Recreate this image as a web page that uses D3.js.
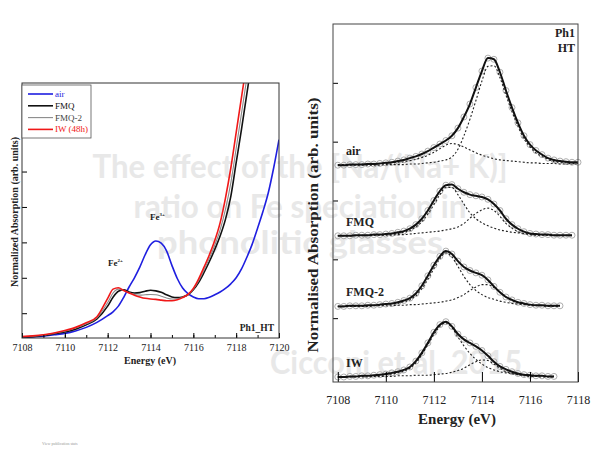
<!DOCTYPE html>
<html>
<head>
<meta charset="utf-8">
<script src="https://cdn.jsdelivr.net/npm/d3@7"></script>
<style>
  body { margin: 0; background: #fff; }
</style>
</head>
<body>
<script>
// ---- left panel: XANES pre-edge ----
var eLeft = [7108, 7108.5, 7109, 7109.5, 7110, 7110.5, 7111, 7111.5,
  7112, 7112.25, 7112.5, 7112.75, 7113, 7113.25, 7113.5, 7113.75, 7114, 7114.25, 7114.5, 7114.75,
  7115, 7115.25, 7115.5, 7115.75, 7116, 7116.25, 7116.5, 7116.75, 7117, 7117.25, 7117.5, 7117.75,
  7118, 7118.25, 7118.5, 7118.75, 7119, 7119.25, 7119.5, 7119.75, 7120];
var airLeft = [-0.068, -0.067, -0.065, -0.061, -0.057, -0.050, -0.040, -0.026,
  -0.007, 0.004, 0.020, 0.045, 0.074, 0.100, 0.130, 0.165, 0.193, 0.204, 0.198, 0.176,
  0.135, 0.098, 0.071, 0.055, 0.046, 0.041, 0.041, 0.045, 0.052, 0.060, 0.070, 0.083,
  0.100, 0.125, 0.158, 0.195, 0.240, 0.287, 0.340, 0.410, 0.490];
var fmqLeft = [-0.067, -0.066, -0.063, -0.058, -0.053, -0.045, -0.033, -0.016,
  0.020, 0.045, 0.062, 0.066, 0.060, 0.057, 0.058, 0.062, 0.065, 0.063, 0.059, 0.052,
  0.046, 0.044, 0.046, 0.052, 0.066, 0.087, 0.115, 0.146, 0.180, 0.218, 0.265, 0.330,
  0.425, 0.520, 0.620, 0.720, null, null, null, null, null];
var fmq2Left = [-0.066, -0.065, -0.062, -0.057, -0.051, -0.042, -0.030, -0.013,
  0.030, 0.057, 0.068, 0.064, 0.058, 0.053, 0.051, 0.052, 0.053, 0.052, 0.048, 0.043,
  0.040, 0.041, 0.045, 0.052, 0.068, 0.092, 0.122, 0.155, 0.192, 0.235, 0.293, 0.368,
  0.465, 0.565, 0.665, 0.765, null, null, null, null, null];
var iwLeft = [-0.066, -0.064, -0.061, -0.056, -0.049, -0.040, -0.027, -0.010,
  0.042, 0.068, 0.072, 0.064, 0.057, 0.051, 0.046, 0.042, 0.040, 0.039, 0.037, 0.035,
  0.035, 0.038, 0.044, 0.053, 0.070, 0.097, 0.130, 0.165, 0.205, 0.255, 0.325, 0.410,
  0.510, 0.610, 0.710, null, null, null, null, null, null];
var leftNames = ["air", "FMQ", "FMQ-2", "IW (48h)"];
var leftColors = ["#1f1fe0", "#111", "#8a8a8a", "#f01818"];

// ---- right panel: pre-edge peak fits ----
var eRight = [7108, 7108.25, 7108.5, 7108.75, 7109, 7109.25, 7109.5, 7109.75,
  7110, 7110.25, 7110.5, 7110.75, 7111, 7111.25, 7111.5, 7111.75,
  7112, 7112.25, 7112.5, 7112.75, 7113, 7113.25, 7113.5, 7113.75,
  7114, 7114.25, 7114.5, 7114.75, 7115, 7115.25, 7115.5, 7115.75,
  7116, 7116.25, 7116.5, 7116.75, 7117, 7117.25, 7117.5, 7117.75, 7118];
var airFit = [0.00, 0.00, 0.01, 0.01, 0.01, 0.02, 0.02, 0.03, 0.04, 0.05, 0.07, 0.09, 0.12, 0.15, 0.19, 0.24,
  0.30, 0.36, 0.42, 0.50, 0.63, 0.82, 1.04, 1.32, 1.60, 1.82, 1.80, 1.58, 1.27, 0.98, 0.72, 0.50,
  0.35, 0.25, 0.18, 0.12, 0.09, 0.07, 0.06, 0.05, 0.05];
var airFe2 = [0.01, 0.01, 0.01, 0.01, 0.02, 0.02, 0.02, 0.03, 0.03, 0.04, 0.05, 0.06, 0.08, 0.10, 0.13, 0.17,
  0.22, 0.28, 0.34, 0.37, 0.35, 0.31, 0.26, 0.21, 0.17, 0.14, 0.11, 0.09, 0.08, 0.07, 0.06, 0.05,
  0.04, 0.04, 0.03, 0.03, 0.03, 0.02, 0.02, 0.02, 0.02];
var airFe3 = [0, 0, 0, 0, 0, 0, 0, 0, 0.01, 0.01, 0.01, 0.01, 0.02, 0.02, 0.03, 0.04,
  0.05, 0.07, 0.09, 0.14, 0.27, 0.50, 0.78, 1.10, 1.43, 1.68, 1.69, 1.49, 1.19, 0.91, 0.66, 0.45,
  0.31, 0.21, 0.15, 0.10, 0.06, 0.05, 0.04, 0.03, 0.03];
var fmqFit = [0.00, 0.00, 0.00, 0.01, 0.01, 0.01, 0.02, 0.02, 0.03, 0.04, 0.06, 0.08, 0.12, 0.19, 0.29, 0.43,
  0.60, 0.76, 0.86, 0.87, 0.80, 0.74, 0.70, 0.68, 0.66, 0.62, 0.54, 0.43, 0.29, 0.19, 0.12, 0.07,
  0.04, 0.03, 0.02, 0.02, 0.01, 0.01, 0.01, 0.01, null];
var fmqFe2 = [0.00, 0.00, 0.00, 0.01, 0.01, 0.01, 0.01, 0.02, 0.02, 0.03, 0.04, 0.06, 0.09, 0.15, 0.24, 0.37,
  0.53, 0.70, 0.82, 0.82, 0.70, 0.54, 0.39, 0.29, 0.22, 0.17, 0.13, 0.10, 0.08, 0.06, 0.05, 0.04,
  0.03, 0.02, 0.02, 0.01, 0.01, 0.01, 0.01, 0.01, null];
var fmqFe3 = [0, 0, 0, 0, 0, 0, 0.01, 0.01, 0.01, 0.01, 0.02, 0.02, 0.03, 0.04, 0.05, 0.06,
  0.07, 0.08, 0.10, 0.12, 0.15, 0.21, 0.30, 0.38, 0.44, 0.47, 0.43, 0.33, 0.21, 0.13, 0.07, 0.04,
  0.02, 0.01, 0.01, 0.01, 0, 0, 0, 0, null];
var fmq2Fit = [0.00, 0.00, 0.01, 0.01, 0.01, 0.02, 0.02, 0.03, 0.04, 0.05, 0.07, 0.10, 0.14, 0.22, 0.35, 0.52,
  0.70, 0.85, 0.94, 0.89, 0.77, 0.67, 0.61, 0.57, 0.53, 0.45, 0.34, 0.24, 0.16, 0.11, 0.07, 0.05,
  0.03, 0.02, 0.02, 0.01, 0.01, 0.01, null, null, null];
var fmq2Fe2 = [0.00, 0.00, 0.01, 0.01, 0.01, 0.01, 0.02, 0.02, 0.03, 0.04, 0.05, 0.08, 0.11, 0.18, 0.30, 0.46,
  0.64, 0.81, 0.91, 0.84, 0.68, 0.51, 0.37, 0.27, 0.20, 0.15, 0.12, 0.09, 0.07, 0.05, 0.04, 0.03,
  0.03, 0.02, 0.02, 0.01, 0.01, 0.01, null, null, null];
var fmq2Fe3 = [0, 0, 0, 0, 0, 0, 0.01, 0.01, 0.01, 0.01, 0.02, 0.02, 0.03, 0.03, 0.04, 0.05,
  0.06, 0.07, 0.09, 0.11, 0.15, 0.20, 0.27, 0.33, 0.37, 0.37, 0.32, 0.24, 0.16, 0.10, 0.06, 0.04,
  0.02, 0.01, 0.01, 0, 0, 0, null, null, null];
var iwFit = [0.00, 0.00, 0.01, 0.01, 0.02, 0.02, 0.03, 0.04, 0.05, 0.07, 0.09, 0.12, 0.17, 0.27, 0.41, 0.58,
  0.76, 0.89, 0.94, 0.86, 0.73, 0.64, 0.58, 0.52, 0.45, 0.36, 0.26, 0.18, 0.13, 0.09, 0.06, 0.04,
  0.03, 0.02, 0.02, 0.01, 0.01, null, null, null, null];
var iwFe2 = [0.00, 0.00, 0.01, 0.01, 0.01, 0.02, 0.02, 0.03, 0.04, 0.05, 0.07, 0.10, 0.15, 0.24, 0.38, 0.55,
  0.72, 0.86, 0.92, 0.84, 0.68, 0.53, 0.40, 0.30, 0.22, 0.16, 0.12, 0.09, 0.07, 0.06, 0.04, 0.03,
  0.03, 0.02, 0.02, 0.01, 0.01, null, null, null, null];
var iwFe3 = [0, 0, 0, 0, 0, 0, 0.01, 0.01, 0.01, 0.01, 0.02, 0.02, 0.02, 0.03, 0.03, 0.03,
  0.04, 0.05, 0.06, 0.08, 0.11, 0.15, 0.21, 0.26, 0.29, 0.28, 0.22, 0.15, 0.09, 0.06, 0.04, 0.02,
  0.01, 0.01, 0, 0, 0, null, null, null, null];
var rightNames = ["air", "FMQ", "FMQ-2", "IW"];
var rightOffsets = [3.6, 2.4, 1.2, 0];
var rightFits = [airFit, fmqFit, fmq2Fit, iwFit];
var rightFe2 = [airFe2, fmqFe2, fmq2Fe2, iwFe2];
var rightFe3 = [airFe3, fmqFe3, fmq2Fe3, iwFe3];
var xTicks = [7108, 7110, 7112, 7114, 7116, 7118, 7120];
var wmLines = ["The effect of the [Na/(Na+ K)]", "ratio on Fe speciation in", "phonolitic glasses"];

var SERIF = "'Liberation Serif', 'Times New Roman', 'DejaVu Serif', serif";
var WM = "Lato, 'Open Sans', sans-serif";

var svg = d3.select("body").append("svg")
  .attr("width", 600)
  .attr("height", 450)
  .style("font-family", SERIF);

// watermark (slide title) sits behind both figures
var wmY = [178, 218, 254], wmW = [415, 333, 286];
wmLines.forEach(function(t, i) {
  svg.append("text")
    .attr("x", 300).attr("y", wmY[i])
    .attr("text-anchor", "middle")
    .attr("textLength", wmW[i]).attr("lengthAdjust", "spacingAndGlyphs")
    .style("font-family", WM)
    .style("font-weight", "bold").style("font-size", "33px")
    .attr("fill", "#e8e8e8")
    .text(t);
});
svg.append("text")
  .attr("x", 396).attr("y", 374)
  .attr("text-anchor", "middle")
  .attr("textLength", 252).attr("lengthAdjust", "spacingAndGlyphs")
  .style("font-family", WM)
  .style("font-weight", "bold").style("font-size", "33px")
  .attr("fill", "#e8e8e8")
  .text("Cicconi et al. 2015");

// small helper so every label gets the serif face
function label(g, x, y, size, txt, opts) {
  opts = opts || {};
  var t = g.append("text").attr("x", x).attr("y", y)
    .style("font-family", SERIF)
    .style("font-size", size + "px")
    .style("font-weight", opts.bold ? "bold" : "normal")
    .attr("fill", opts.fill || "#222")
    .attr("text-anchor", opts.anchor || "start")
    .text(txt);
  return t;
}

// ================= left panel =================
var xL = d3.scaleLinear().domain([7108, 7120]).range([22, 279]);
var yL = d3.scaleLinear().domain([-0.07, 0.65]).range([338, 83]);

svg.append("clipPath").attr("id", "clipL")
  .append("rect").attr("x", 22).attr("y", 83).attr("width", 257).attr("height", 255);

var gL = svg.append("g");

var lineL = d3.line()
  .defined(function(d) { return d.v != null; })
  .x(function(d) { return xL(d.e); })
  .y(function(d) { return yL(d.v); })
  .curve(d3.curveMonotoneX);

[airLeft, fmqLeft, fmq2Left, iwLeft].forEach(function(arr, i) {
  var pts = eLeft.map(function(e, j) { return {e: e, v: arr[j]}; });
  gL.append("path")
    .attr("clip-path", "url(#clipL)")
    .attr("d", lineL(pts))
    .attr("fill", "none")
    .attr("stroke", leftColors[i])
    .attr("stroke-width", i == 2 ? 1.1 : 1.6);
});

gL.append("g").attr("transform", "translate(0,338)")
  .call(d3.axisBottom(xL).tickValues(d3.range(7109, 7120, 1)).tickSize(-3).tickFormat(""))
  .call(function(g) { g.select(".domain").remove(); });
var axL = gL.append("g").attr("transform", "translate(0,338)")
  .call(d3.axisBottom(xL).tickValues(xTicks).tickSize(-5).tickPadding(6).tickFormat(d3.format("d")));
axL.select(".domain").remove();
axL.attr("font-family", null);
axL.selectAll("text").style("font-family", SERIF).style("font-size", "10px").attr("fill", "#222");
gL.append("g").attr("transform", "translate(22,0)")
  .call(d3.axisLeft(yL).tickValues([0, 0.1, 0.2, 0.3, 0.4, 0.5, 0.6]).tickSize(-5).tickFormat(""))
  .call(function(g) { g.select(".domain").remove(); });

gL.append("rect").attr("x", 22).attr("y", 83).attr("width", 257).attr("height", 255)
  .attr("fill", "none").attr("stroke", "#333").attr("stroke-width", 1);

// legend
var leg = gL.append("g");
leg.append("rect").attr("x", 22).attr("y", 85).attr("width", 69).attr("height", 53)
  .attr("fill", "#fff").attr("stroke", "#555").attr("stroke-width", 0.8);
leftNames.forEach(function(n, i) {
  var y = 94 + i * 11.8;
  leg.append("line").attr("x1", 28).attr("x2", 53).attr("y1", y).attr("y2", y)
    .attr("stroke", leftColors[i]).attr("stroke-width", i == 2 ? 1.1 : 1.6);
  label(leg, 55, y + 3, 9, n, {fill: i == 2 ? "#444" : leftColors[i]});
});

label(gL, 150, 220, 9, "Fe", {bold: true})
  .append("tspan").attr("dy", -4).style("font-size", "5px").text("3+");
label(gL, 108, 266, 9, "Fe", {bold: true})
  .append("tspan").attr("dy", -4).style("font-size", "5px").text("2+");
label(gL, 274, 331, 9.5, "Ph1_HT", {bold: true, anchor: "end"});
label(gL, 150, 364, 10, "Energy (eV)", {bold: true, anchor: "middle"});
label(gL, 0, 0, 9.5, "Normalized Absorption (arb. units)", {bold: true, anchor: "middle"})
  .attr("transform", "translate(18,212) rotate(-90)")
  .attr("textLength", 150).attr("lengthAdjust", "spacingAndGlyphs");

// ================= right panel =================
var xR = d3.scaleLinear().domain([7107.8, 7118]).range([333, 578]);
var yR = d3.scaleLinear().domain([-0.085, 6.0]).range([382, 24]);
var gR = svg.append("g");

rightNames.forEach(function(n, i) {
  var off = rightOffsets[i];
  var pts = function(arr) {
    return eRight.map(function(e, j) { return {e: e, v: arr[j]}; });
  };
  var line = d3.line()
    .defined(function(d) { return d.v != null; })
    .x(function(d) { return xR(d.e); })
    .y(function(d) { return yR(d.v + off); })
    .curve(d3.curveMonotoneX);

  // measured points
  gR.append("g").selectAll("circle")
    .data(pts(rightFits[i]).filter(function(d) { return d.v != null; }))
    .enter().append("circle")
    .attr("cx", function(d) { return xR(d.e); })
    .attr("cy", function(d) { return yR(d.v + off); })
    .attr("r", 3)
    .attr("fill", "none")
    .attr("stroke", "#999")
    .attr("stroke-width", 0.8);

  [rightFe2[i], rightFe3[i]].forEach(function(arr) {
    gR.append("path").attr("d", line(pts(arr)))
      .attr("fill", "none").attr("stroke", "#222")
      .attr("stroke-width", 1.1).attr("stroke-dasharray", "2,2");
  });
  gR.append("path").attr("d", line(pts(rightFits[i])))
    .attr("fill", "none").attr("stroke", "#111").attr("stroke-width", 2);

  label(gR, 346, yR(off) - 10, 12, n, {bold: true});
});

var axR = gR.append("g").attr("transform", "translate(0,382)")
  .call(d3.axisBottom(xR).tickValues([7108, 7110, 7112, 7114, 7116, 7118]).tickSize(-10).tickPadding(13).tickFormat(d3.format("d")));
axR.select(".domain").remove();
axR.attr("font-family", null);
axR.selectAll("text").style("font-family", SERIF).style("font-size", "12px").attr("fill", "#222");
gR.append("g").attr("transform", "translate(333,0)")
  .call(d3.axisLeft(yR).tickValues([1, 2, 3, 4, 5]).tickSize(-5).tickFormat(""))
  .call(function(g) { g.select(".domain").remove(); });

gR.append("rect").attr("x", 333).attr("y", 24).attr("width", 245).attr("height", 358)
  .attr("fill", "none").attr("stroke", "#444").attr("stroke-width", 1);

label(gR, 575, 37, 12, "Ph1", {bold: true, anchor: "end"});
label(gR, 575, 52, 12, "HT", {bold: true, anchor: "end"});
label(gR, 457, 424, 15, "Energy (eV)", {bold: true, anchor: "middle"});
label(gR, 0, 0, 14, "Normalised Absorption (arb. units)", {bold: true, anchor: "middle"})
  .attr("transform", "translate(318,225) rotate(-90)")
  .attr("textLength", 255).attr("lengthAdjust", "spacingAndGlyphs");

label(svg, 42, 445, 4, "View publication stats", {fill: "#999"});
</script>
</body>
</html>
